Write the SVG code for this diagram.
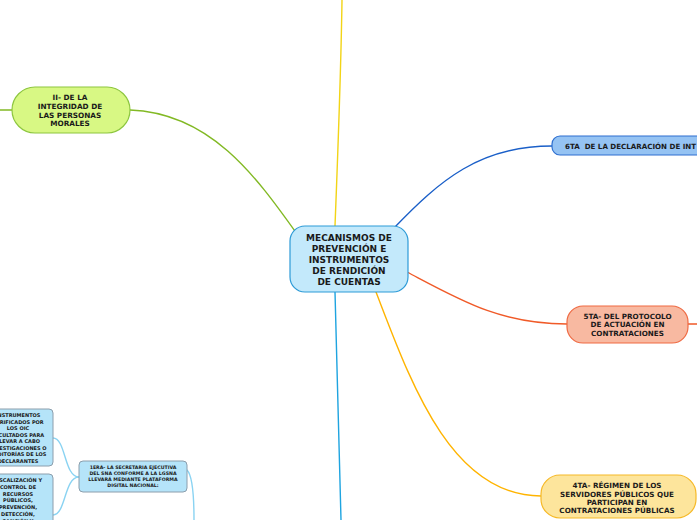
<svg xmlns="http://www.w3.org/2000/svg" width="697" height="520" viewBox="0 0 697 520">
<style>
text{font-family:"DejaVu Sans","Verdana",sans-serif;font-weight:bold;text-anchor:middle;fill:#1a1a1a}
.c{fill:none;stroke-width:1.4;stroke-linecap:round}
.s{fill:#b5e4f9;stroke:#8c9eac;stroke-width:1}
</style>
<rect width="697" height="520" fill="#ffffff"/>
<g id="connectors">
  <path class="c" stroke="#82b924" d="M130,110 C210,113 255,175 297,234"/>
  <path class="c" stroke="#82b924" d="M12,110 L0,110"/>
  <path class="c" stroke="#f2d416" d="M335,226 C338,150 341,70 342,0"/>
  <path class="c" stroke="#1a5fc8" d="M394,228 C440,180 480,146 552,146"/>
  <path class="c" stroke="#f05a28" d="M407,272 C460,300 500,324 567,324"/>
  <path class="c" stroke="#f05a28" d="M688,324 L697,324"/>
  <path class="c" stroke="#ffb400" d="M376,292 C410,380 450,496 541,496"/>
  <path class="c" stroke="#1ea4e0" d="M335,292 C337,380 340,460 341,520"/>
  <path class="c" stroke="#8ad3f2" stroke-width="1" d="M187,470 C193,476 194,500 194,520"/>
  <path class="c" stroke="#8ad3f2" stroke-width="1" d="M79,477 C64,477 66,438 53,438"/>
  <path class="c" stroke="#8ad3f2" stroke-width="1" d="M79,477 C64,477 66,515 53,515"/>
</g>
<g id="node-central">
  <rect x="290" y="226" width="118" height="66" rx="15" fill="#c3e9fb" stroke="#2d9bd7" stroke-width="1.2"/>
  <text font-size="9" x="349" y="241">MECANISMOS DE</text>
  <text font-size="9" x="349" y="252">PREVENCIÓN E</text>
  <text font-size="9" x="349" y="263">INSTRUMENTOS</text>
  <text font-size="9" x="349" y="274">DE RENDICIÓN</text>
  <text font-size="9" x="349" y="285">DE CUENTAS</text>
</g>
<g id="node-integridad">
  <rect x="12" y="87" width="118" height="46" rx="23" fill="#d8f884" stroke="#8dc63f" stroke-width="1.2"/>
  <text font-size="7.3" x="70" y="100.3">II- DE LA</text>
  <text font-size="7.3" x="70" y="108.9">INTEGRIDAD DE</text>
  <text font-size="7.3" x="70" y="117.5">LAS PERSONAS</text>
  <text font-size="7.3" x="70" y="126">MORALES</text>
</g>
<g id="node-6ta">
  <rect x="552" y="136" width="200" height="19" rx="8" fill="#95c3f3" stroke="#2e6fd0" stroke-width="1.2"/>
  <text font-size="7.1" x="565" y="148.5" style="text-anchor:start;white-space:pre" xml:space="preserve">6TA  DE LA DECLARACIÓN DE INT</text>
</g>
<g id="node-5ta">
  <rect x="567" y="306" width="121" height="37" rx="16" fill="#f8b9a1" stroke="#ef6a43" stroke-width="1.2"/>
  <text font-size="7.2" x="627.5" y="318.5">5TA- DEL PROTOCOLO</text>
  <text font-size="7.2" x="627.5" y="327.3">DE ACTUACIÓN EN</text>
  <text font-size="7.2" x="627.5" y="336">CONTRATACIONES</text>
</g>
<g id="node-4ta">
  <rect x="541" y="475" width="155" height="43" rx="19" fill="#fde59c" stroke="#f6b928" stroke-width="1.2"/>
  <text font-size="7.2" x="617" y="488.3">4TA- RÉGIMEN DE LOS</text>
  <text font-size="7.2" x="617" y="496.7">SERVIDORES PÚBLICOS QUE</text>
  <text font-size="7.2" x="617" y="505">PARTICIPAN EN</text>
  <text font-size="7.2" x="617" y="513.3">CONTRATACIONES PÚBLICAS</text>
</g>
<g id="node-1era">
  <rect class="s" x="79" y="461" width="108" height="31" rx="4"/>
  <text font-size="4.7" x="133" y="469">1ERA- LA SECRETARIA EJECUTIVA</text>
  <text font-size="4.7" x="133" y="475.1">DEL SNA CONFORME A LA LGSNA</text>
  <text font-size="4.7" x="133" y="481.2">LLEVARÁ MEDIANTE PLATAFORMA</text>
  <text font-size="4.7" x="133" y="487.3">DIGITAL NACIONAL:</text>
</g>
<g id="node-instrumentos">
  <rect class="s" x="-17" y="409" width="70" height="57" rx="4"/>
  <text font-size="5" x="18" y="417">INSTRUMENTOS</text>
  <text font-size="5" x="18" y="423.5">VERIFICADOS POR</text>
  <text font-size="5" x="18" y="430">LOS OIC</text>
  <text font-size="5" x="18" y="436.5">FACULTADOS PARA</text>
  <text font-size="5" x="18" y="443">LLEVAR A CABO</text>
  <text font-size="5" x="18" y="449.5">INVESTIGACIONES O</text>
  <text font-size="5" x="18" y="456">AUDITORÍAS DE LOS</text>
  <text font-size="5" x="18" y="462.5">DECLARANTES</text>
</g>
<g id="node-fiscalizacion">
  <rect class="s" x="-17" y="474" width="70" height="82" rx="4"/>
  <text font-size="5" x="18" y="482">FISCALIZACIÓN Y</text>
  <text font-size="5" x="18" y="488.8">CONTROL DE</text>
  <text font-size="5" x="18" y="495.6">RECURSOS</text>
  <text font-size="5" x="18" y="502.4">PÚBLICOS,</text>
  <text font-size="5" x="18" y="509.2">PREVENCIÓN,</text>
  <text font-size="5" x="18" y="516">DETECCIÓN,</text>
  <text font-size="5" x="18" y="522.8">SANCIÓN Y</text>
</g>
</svg>
